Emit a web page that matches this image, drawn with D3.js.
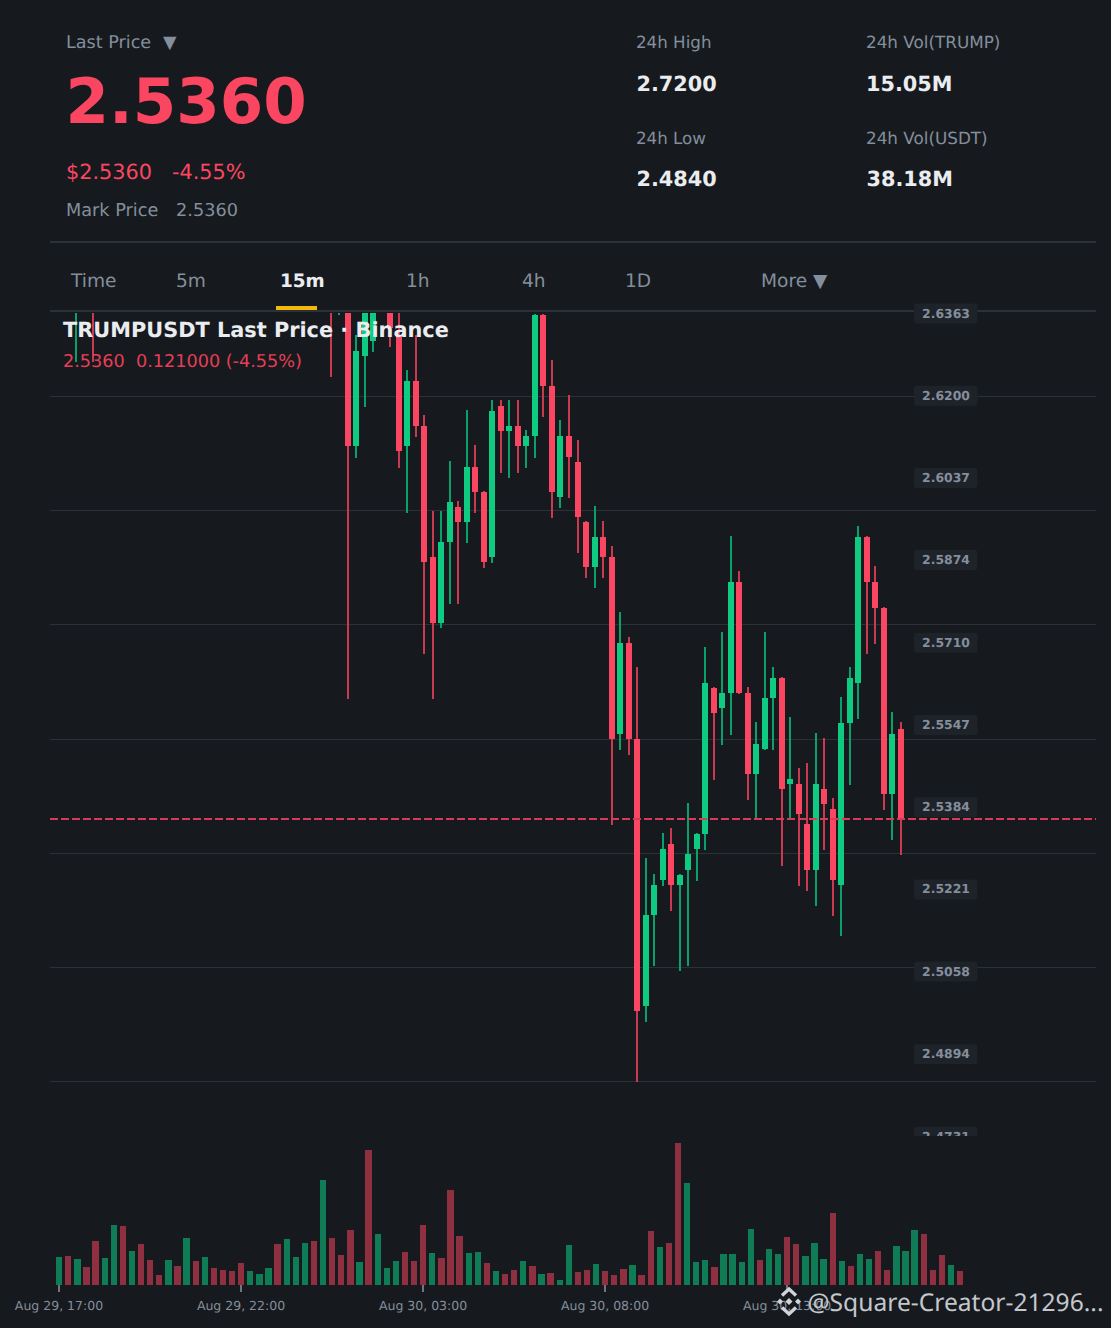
<!DOCTYPE html>
<html><head><meta charset="utf-8">
<style>html,body{margin:0;padding:0;background:#161a1e}svg{display:block}text{text-rendering:geometricPrecision;white-space:pre}</style>
<script src="https://cdn.jsdelivr.net/npm/d3@7"></script>
</head><body><svg id="c" width="1111" height="1328"></svg>
<script>
const candleIndex=[2,4,32,33,34,35,36,37,39,40,41,42,43,44,45,46,47,48,49,50,51,52,53,54,55,56,57,58,59,60,61,62,63,64,65,66,67,68,69,70,71,72,73,74,75,76,77,78,79,80,81,82,83,84,85,86,87,88,89,90,91,92,93,94,95,96,97,98,99];
const opens=[2.6450,2.6500,2.6500,2.6410,2.6400,2.6099,2.6278,2.6307,2.6390,2.6319,2.6099,2.6228,2.6139,2.5879,2.5748,2.5909,2.5978,2.5949,2.6058,2.6008,2.5879,2.6179,2.6129,2.6139,2.6099,2.6119,2.6359,2.6218,2.5998,2.6119,2.6067,2.5949,2.5859,2.5919,2.5879,2.5528,2.5709,2.5518,2.4989,2.5169,2.5239,2.5310,2.5229,2.5258,2.5300,2.5330,2.5619,2.5580,2.5609,2.5830,2.5609,2.5449,2.5498,2.5599,2.5639,2.5429,2.5429,2.5350,2.5258,2.5419,2.5379,2.5229,2.5550,2.5629,2.5919,2.5830,2.5778,2.5409,2.5538];
const highs=[2.6550,2.6550,2.6550,2.6520,2.6420,2.6319,2.6420,2.6420,2.6420,2.6380,2.6250,2.6319,2.6161,2.5970,2.5970,2.6069,2.5990,2.6171,2.6101,2.6010,2.6190,2.6190,2.6190,2.6190,2.6131,2.6361,2.6361,2.6270,2.6151,2.6200,2.6111,2.5950,2.5980,2.5950,2.5901,2.5770,2.5720,2.5661,2.5282,2.5250,2.5332,2.5342,2.5250,2.5391,2.5332,2.5700,2.5621,2.5730,2.5921,2.5851,2.5621,2.5552,2.5730,2.5661,2.5641,2.5562,2.5461,2.5471,2.5530,2.5520,2.5401,2.5601,2.5661,2.5941,2.5921,2.5861,2.5780,2.5572,2.5552];
const lows=[2.6266,2.6266,2.6236,2.6359,2.5598,2.6075,2.6177,2.6286,2.6295,2.6056,2.5966,2.6117,2.5687,2.5598,2.5738,2.5786,2.5786,2.5907,2.5966,2.5857,2.5867,2.6046,2.6036,2.6046,2.6056,2.6075,2.6157,2.5956,2.5976,2.5996,2.5887,2.5838,2.5818,2.5838,2.5348,2.5496,2.5487,2.4838,2.4957,2.5068,2.5227,2.5177,2.5058,2.5068,2.5237,2.5298,2.5437,2.5506,2.5526,2.5607,2.5397,2.5360,2.5496,2.5496,2.5266,2.5360,2.5227,2.5217,2.5187,2.5298,2.5167,2.5128,2.5427,2.5558,2.5687,2.5707,2.5377,2.5318,2.5288];
const closes=[2.6500,2.6450,2.6420,2.6500,2.6099,2.6288,2.6390,2.6380,2.6333,2.6089,2.6228,2.6139,2.5869,2.5748,2.5909,2.5988,2.5949,2.6058,2.6008,2.5869,2.6169,2.6129,2.6139,2.6099,2.6119,2.6359,2.6218,2.6008,2.6119,2.6077,2.5958,2.5859,2.5919,2.5879,2.5518,2.5709,2.5518,2.4979,2.5169,2.5229,2.5300,2.5229,2.5249,2.5290,2.5330,2.5629,2.5570,2.5609,2.5830,2.5609,2.5449,2.5508,2.5599,2.5639,2.5419,2.5439,2.5370,2.5258,2.5429,2.5389,2.5239,2.5550,2.5639,2.5919,2.5830,2.5778,2.5409,2.5528,2.5360];
const volumes=[28,29,26,18,44,27,60,59,34,41,25,10,25,19,47,24,28,17,15,14,22,14,11,17,41,46,28,42,44,105,47,30,55,23,135,51,17,24,33,24,60,32,27,95,49,32,33,22,14,11,15,24,19,11,12,5,40,13,15,21,14,10,16,20,10,54,38,42,142,102,23,25,18,31,31,23,56,25,36,31,48,41,29,42,26,72,24,19,31,26,34,15,39,34,55,51,15,30,20,14];
const volumeUp=[1,0,1,0,0,1,1,0,1,0,0,0,1,0,1,0,1,0,0,0,0,1,1,1,0,1,1,1,0,1,0,0,0,1,0,1,1,1,0,0,0,1,0,0,0,1,1,0,1,0,0,1,0,1,0,1,1,0,0,1,0,0,0,1,0,0,1,0,0,1,1,1,0,1,1,1,1,0,1,1,0,0,1,1,1,0,1,0,1,1,0,0,1,1,1,0,0,0,1,0];
const axisTicks=["2.6363","2.6200","2.6037","2.5874","2.5710","2.5547","2.5384","2.5221","2.5058","2.4894","2.4731"];
const gridPrices=[2.6198,2.5972,2.5746,2.5518,2.5292,2.5066,2.4840];
const lastPrice=2.5360;
const timeTickIndex=[0,20,40,60,80];
const timeTickLabels=["Aug 29, 17:00","Aug 29, 22:00","Aug 30, 03:00","Aug 30, 08:00","Aug 30, 13:00"];
const tabs=["Time","5m","15m","1h","4h","1D","More ▼"];
const tabX=[71,176,280,406,522,625,761];

const BG="#161a1e",RED="#fb4661",GREEN="#0ecb81",GREY="#848e9c",F="'DejaVu Sans',sans-serif";
const svg=d3.select("#c").style("font-family",F);
const y=d3.scaleLinear().domain([2.6363,2.4731]).range([313,1136]);
const xC=d3.scaleLinear().domain([0,99]).range([59.2,901.2]);
const xV=d3.scaleLinear().domain([0,99]).range([59,960]);
const yV=d3.scaleLinear().domain([0,142]).range([1285,1143]);
const txt=(x,yy,s,size,fill,w,anchor)=>svg.append("text").attr("x",x).attr("y",yy).attr("font-size",size).attr("fill",fill).attr("font-weight",w||400).attr("text-anchor",anchor||"start").text(s);

svg.append("rect").attr("width",1111).attr("height",1328).attr("fill",BG);
svg.append("defs").append("clipPath").attr("id","pc").append("rect").attr("x",0).attr("y",313).attr("width",1111).attr("height",823);

// header
txt(66,48,"Last Price",17.6,GREY);
txt(163,48,"▼",17.6,GREY);
txt(65.5,122.7,"2.5360",62.5,RED,700);
txt(66,179,"$2.5360",20.8,RED);
txt(172,179,"-4.55%",20.8,RED);
txt(66,216,"Mark Price",17.7,GREY);
txt(176,216,"2.5360",17.7,GREY);
txt(636,48,"24h High",16.7,GREY);
txt(866,48,"24h Vol(TRUMP)",16.8,GREY);
txt(636.5,91,"2.7200",20.8,"#eaecef",700);
txt(866,91,"15.05M",20.8,"#eaecef",700);
txt(636,144,"24h Low",16.7,GREY);
txt(866,144,"24h Vol(USDT)",16.8,GREY);
txt(636.5,186,"2.4840",20.8,"#eaecef",700);
txt(866.5,186,"38.18M",20.8,"#eaecef",700);
svg.append("line").attr("x1",50).attr("x2",1096).attr("y1",242).attr("y2",242).attr("stroke","#2b3139").attr("stroke-width",2);
tabs.forEach((t,i)=>txt(tabX[i],287,t,t==="15m"?18.4:18.6,t==="15m"?"#eaecef":GREY,t==="15m"?700:400));
svg.append("rect").attr("x",276).attr("y",306).attr("width",41).attr("height",4).attr("fill","#f0b90b");
svg.append("line").attr("x1",50).attr("x2",1096).attr("y1",311).attr("y2",311).attr("stroke","#2b3139").attr("stroke-width",2);

// grid
svg.append("g").selectAll("line").data(gridPrices).join("line").attr("x1",50).attr("x2",1096)
 .attr("y1",d=>Math.round(y(d))+.5).attr("y2",d=>Math.round(y(d))+.5).attr("stroke","#2b3139").attr("stroke-width",1);

// axis labels
const ax=svg.append("g").attr("clip-path","url(#pc2)");
svg.select("defs").append("clipPath").attr("id","pc2").append("rect").attr("x",900).attr("y",300).attr("width",100).attr("height",836);
axisTicks.forEach(t=>{const yy=y(+t);
 ax.append("rect").attr("x",914).attr("y",yy-9.5).attr("width",63.5).attr("height",20).attr("rx",3).attr("fill","#1e2329");
 ax.append("text").attr("x",946).attr("y",yy+4.5).attr("text-anchor","middle").attr("font-size",12.4).attr("font-weight",700).attr("fill",GREY).text(t);
});

// candles
const g=svg.append("g").attr("clip-path","url(#pc)");
const cd=candleIndex.map((i,k)=>({i,o:opens[k],h:highs[k],l:lows[k],c:closes[k]}));
const col=d=>d.c>=d.o?GREEN:RED;
const wickCol=d=>d.c>=d.o?"#0aa06a":"#c93a50";
const bodyX=d=>Math.floor(xC(d.i)-3);
g.selectAll(".w").data(cd).join("rect").attr("class","w")
 .attr("x",d=>bodyX(d)+2).attr("width",2).attr("y",d=>Math.round(y(d.h))).attr("height",d=>Math.round(y(d.l))-Math.round(y(d.h))).attr("fill",wickCol);
g.selectAll(".b").data(cd).join("rect").attr("class","b")
 .attr("x",bodyX).attr("width",6).attr("y",d=>Math.round(y(Math.max(d.o,d.c)))).attr("height",d=>Math.round(y(Math.min(d.o,d.c)))-Math.round(y(Math.max(d.o,d.c)))).attr("fill",col);

// last price line
svg.append("line").attr("x1",50).attr("x2",1096).attr("y1",Math.round(y(lastPrice))).attr("y2",Math.round(y(lastPrice)))
 .attr("stroke","#d93a55").attr("stroke-width",2).attr("stroke-dasharray","8 3");

// legend
txt(63,337,"TRUMPUSDT Last Price · Binance",20.85,"#eaecef",700);
txt(63,367,"2.5360  0.121000 (-4.55%)",17.65,"#e63e56");

// volume
svg.append("g").selectAll("rect").data(volumes).join("rect")
 .attr("x",(d,i)=>Math.round(xV(i)-3)).attr("width",(d,i)=>Math.round(xV(i)+3.3)-Math.round(xV(i)-3)).attr("y",d=>Math.round(yV(d))).attr("height",d=>yV(0)-Math.round(yV(d)))
 .attr("fill",(d,i)=>volumeUp[i]?"#0f7c56":"#8f3040");

// time axis
timeTickIndex.forEach((ti,k)=>{
 svg.append("rect").attr("x",Math.round(xV(ti))-1).attr("y",1285).attr("width",2).attr("height",7).attr("fill","#6f7680");
 txt(xV(ti),1310,timeTickLabels[k],12.5,GREY,400,"middle");
});

// watermark
const wm=svg.append("g").attr("transform","translate(789,1301.5)");
const wc="#d0d3d7";
wm.append("path").attr("d","M-7,-6 L0,-12.5 L7,-6").attr("fill","none").attr("stroke",wc).attr("stroke-width",3.4);
wm.append("path").attr("d","M-7,6 L0,12.5 L7,6").attr("fill","none").attr("stroke",wc).attr("stroke-width",3.4);
wm.append("path").attr("d","M0,-3.5L3.5,0L0,3.5L-3.5,0Z").attr("fill",wc);
wm.append("path").attr("d","M-9,-3L-6,0L-9,3L-12,0Z").attr("fill",wc);
wm.append("path").attr("d","M9,-3L12,0L9,3L6,0Z").attr("fill",wc);
svg.append("text").attr("x",807.5).attr("y",1311).attr("font-size",24.6).attr("font-family","'Noto Sans'").attr("fill","#c4c8cd").text("@Square-Creator-21296...");
</script></body></html>
